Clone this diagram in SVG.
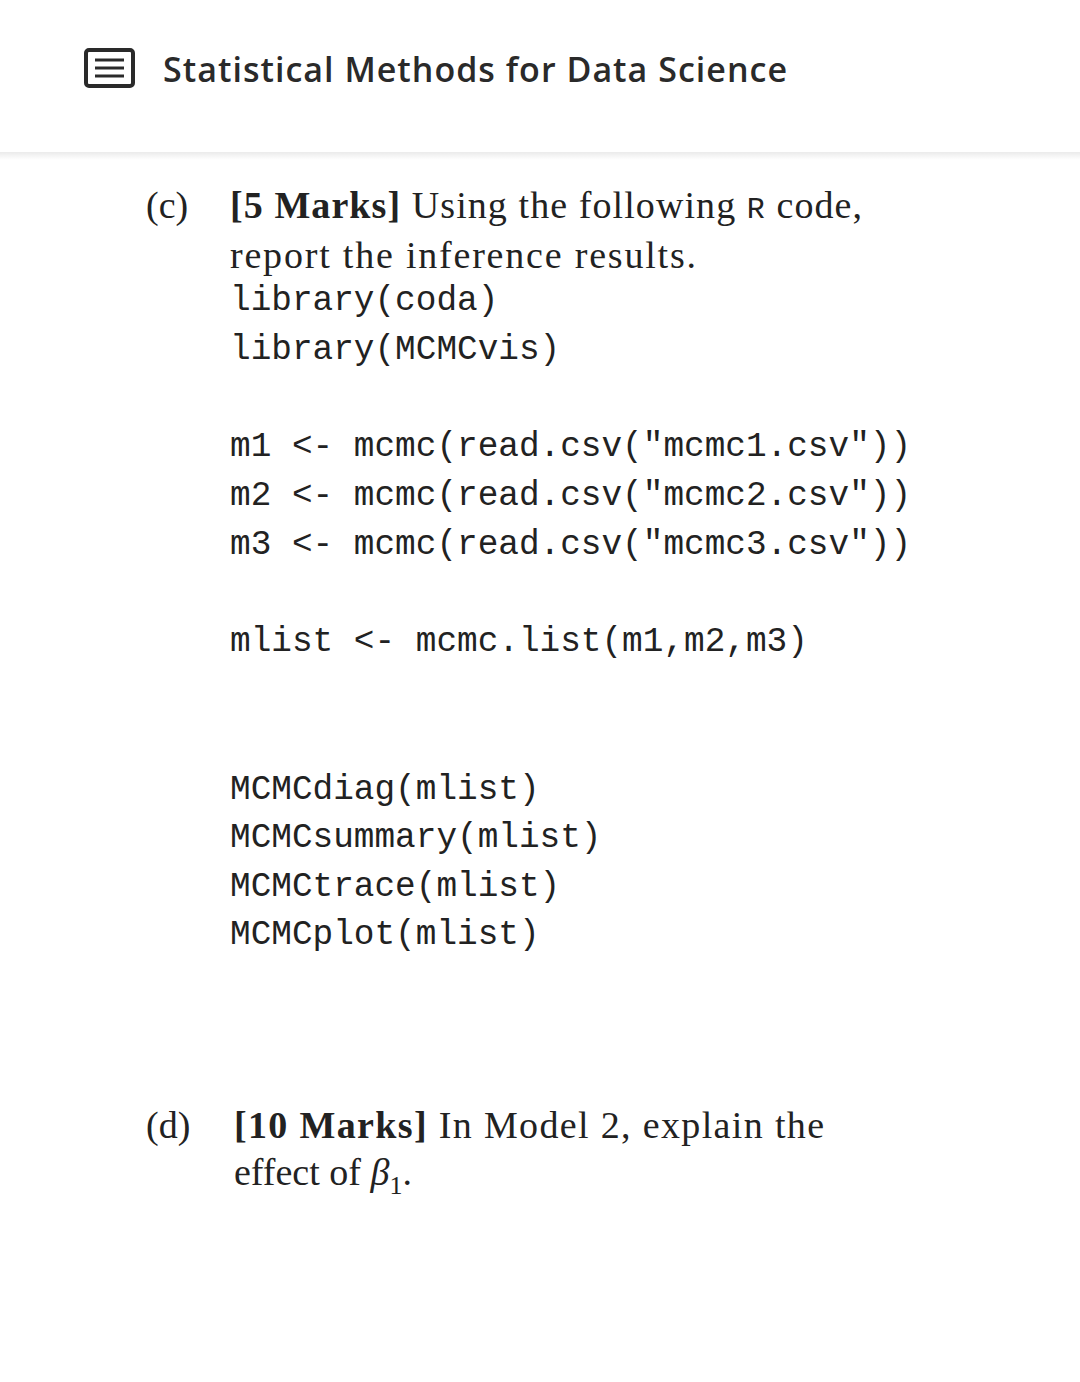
<svg xmlns="http://www.w3.org/2000/svg" width="1080" height="1382" viewBox="0 0 1080 1382">
<defs>
<linearGradient id="sh" x1="0" y1="0" x2="0" y2="1"><stop offset="0" stop-color="#000" stop-opacity="0.08"/><stop offset="1" stop-color="#000" stop-opacity="0"/></linearGradient>
</defs>
<style>
.s{font-family:"Liberation Serif","Times New Roman",serif;font-size:38px;fill:#222}
.m{font-family:"Liberation Mono","Courier New",monospace;font-size:34.4px;fill:#222}
.h{font-family:"Open Sans","Noto Sans",sans-serif;font-size:34px;font-weight:600;fill:#2a2a2a}
</style>
<rect width="1080" height="1382" fill="#fff"/>
<g id="header">
<rect x="0" y="152" width="1080" height="8" fill="url(#sh)"/>
<rect x="86" y="50" width="47" height="36" rx="3" fill="none" stroke="#2a2a2a" stroke-width="4"/>
<line x1="95" y1="60" x2="124" y2="60" stroke="#2a2a2a" stroke-width="3"/>
<line x1="95" y1="68" x2="124" y2="68" stroke="#2a2a2a" stroke-width="3"/>
<line x1="95" y1="76" x2="124" y2="76" stroke="#2a2a2a" stroke-width="3"/>
<text class="h" x="163" y="82" textLength="624">Statistical Methods for Data Science</text>
</g>
<g id="partc">
<text class="s" x="146" y="218">(c)</text>
<text class="s" x="230" y="218" textLength="632"><tspan font-weight="bold">[5 Marks]</tspan> Using the following <tspan class="m" style="font-size:30px">R</tspan> code,</text>
<text class="s" x="230" y="268" textLength="466">report the inference results.</text>
<text class="m" x="230" y="310">library(coda)</text>
<text class="m" x="230" y="359">library(MCMCvis)</text>
<text class="m" x="230" y="456">m1 &lt;- mcmc(read.csv("mcmc1.csv"))</text>
<text class="m" x="230" y="505">m2 &lt;- mcmc(read.csv("mcmc2.csv"))</text>
<text class="m" x="230" y="554">m3 &lt;- mcmc(read.csv("mcmc3.csv"))</text>
<text class="m" x="230" y="651">mlist &lt;- mcmc.list(m1,m2,m3)</text>
<text class="m" x="230" y="799">MCMCdiag(mlist)</text>
<text class="m" x="230" y="847">MCMCsummary(mlist)</text>
<text class="m" x="230" y="896">MCMCtrace(mlist)</text>
<text class="m" x="230" y="944">MCMCplot(mlist)</text>
</g>
<g id="partd">
<text class="s" x="146" y="1138">(d)</text>
<text class="s" x="234" y="1138" textLength="590"><tspan font-weight="bold">[10 Marks]</tspan> In Model 2, explain the</text>
<text class="s" x="234" y="1185">effect of <tspan font-style="italic">β</tspan><tspan font-size="26" dy="9">1</tspan><tspan dy="-9">.</tspan></text>
</g>
</svg>
